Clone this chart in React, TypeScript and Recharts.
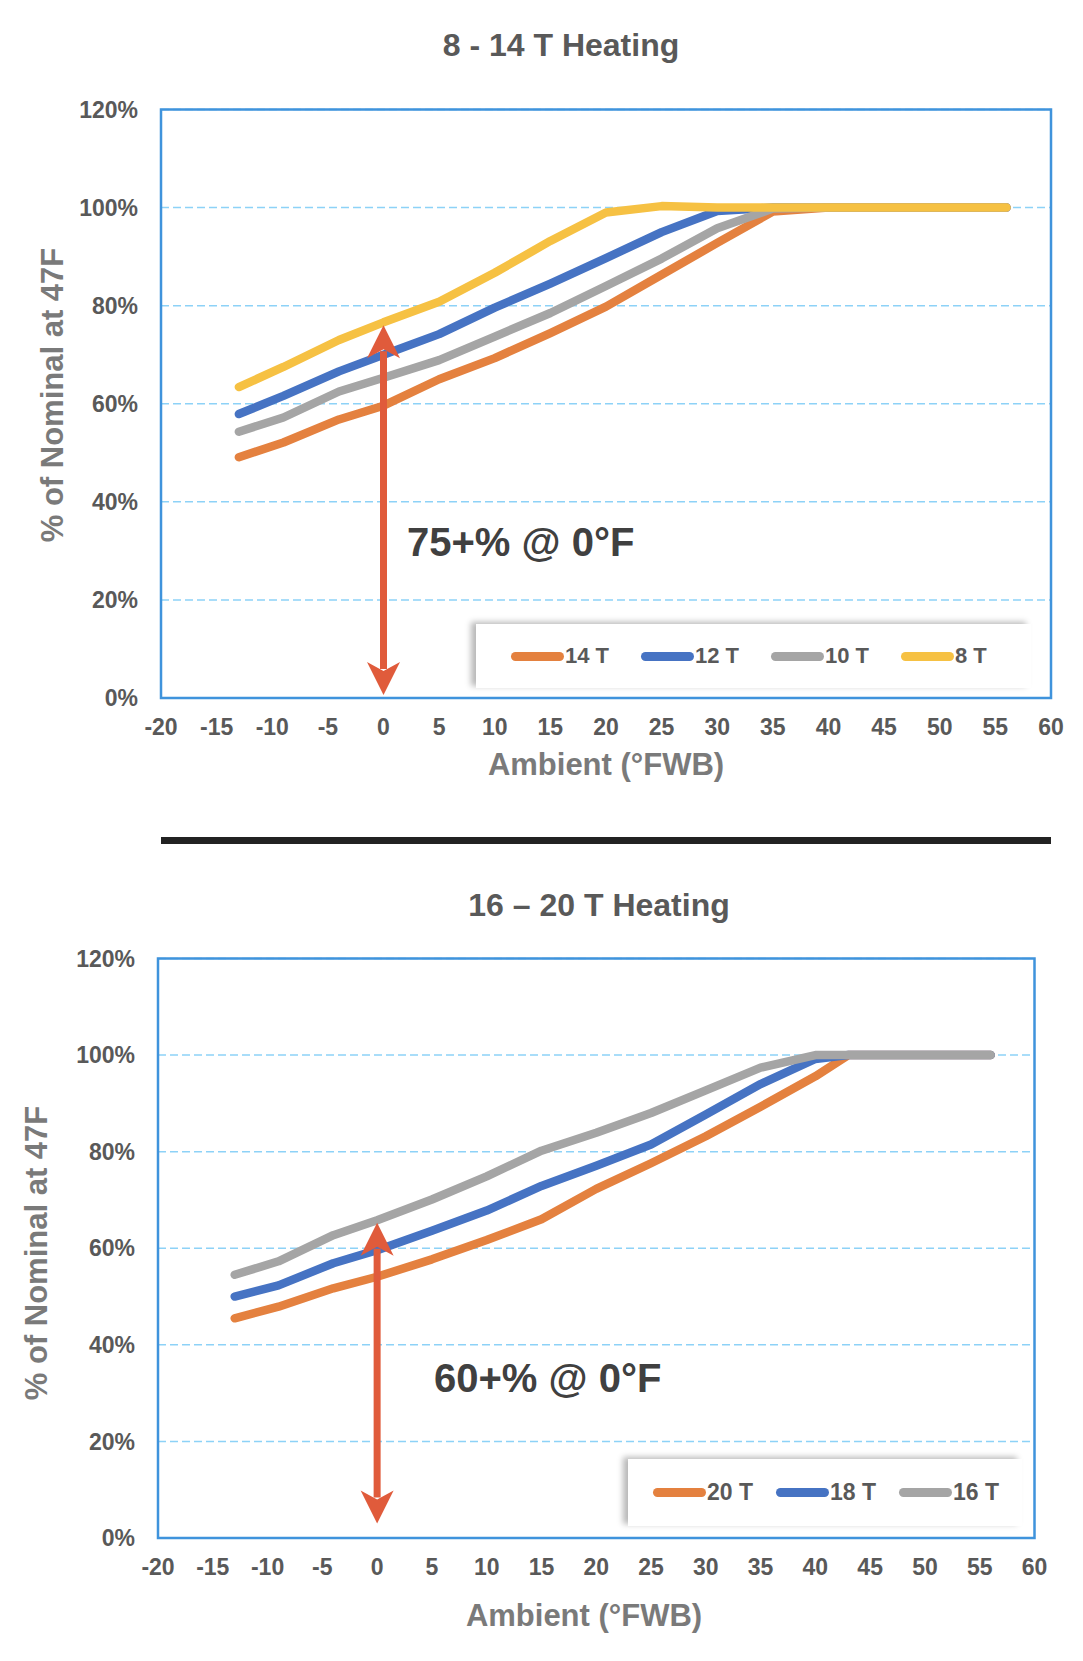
import React from 'react';
import {
  LineChart,
  Line,
  XAxis,
  YAxis,
  CartesianGrid,
  ReferenceArea,
  ReferenceLine,
  Legend,
} from 'recharts';

// ambient wet-bulb temperature (F) for every capacity row
const ambient = [-13, -9, -4, 0, 5, 10, 15, 20, 25, 30, 35, 40, 43, 50, 56];

// 8 - 14 T units, % of nominal heating capacity at 47F
const cap14T = [49.1, 52.1, 56.8, 59.6, 65.0, 69.3, 74.4, 79.8, 86.3, 92.8, 99.2, 100, 100, 100, 100];
const cap12T = [57.9, 61.6, 66.6, 70.0, 74.2, 79.6, 84.5, 89.7, 95.0, 99.3, 100, 100, 100, 100, 100];
const cap10T = [54.3, 57.2, 62.5, 65.3, 68.9, 73.7, 78.5, 84.0, 89.6, 95.8, 99.8, 100, 100, 100, 100];
const cap8T = [63.4, 67.5, 73.0, 76.6, 80.8, 86.7, 93.2, 99.0, 100.3, 100, 100, 100, 100, 100, 100];

// 16 - 20 T units
const cap20T = [45.5, 47.9, 51.7, 54.1, 57.7, 61.7, 66.0, 72.3, 77.6, 83.2, 89.3, 95.6, 100, 100, 100];
const cap18T = [50.0, 52.3, 56.9, 59.6, 63.6, 67.8, 72.9, 77.1, 81.5, 87.7, 94.0, 99.2, 100, 100, 100];
const cap16T = [54.5, 57.3, 62.7, 65.8, 70.1, 74.9, 80.2, 83.9, 88.0, 92.7, 97.4, 100, 100, 100, 100];

const xTicks = [-20, -15, -10, -5, 0, 5, 10, 15, 20, 25, 30, 35, 40, 45, 50, 55, 60];
const yTicks = [0, 20, 40, 60, 80, 100, 120];

// double arrow at 0F: [bottom, top] in %
const smallArrow = [0.6, 76];
const largeArrow = [3, 65.3];

const FONT = "'Liberation Sans', Arial, sans-serif";
const ORANGE = '#e4813f';
const BLUE = '#4673c3';
const GRAY = '#a5a5a5';
const YELLOW = '#f6c143';
const ARROW = '#e05b3b';
const FRAME = '#3f93dc';
const GRID = '#8dd2f7';
const TICK = '#595959';
const LINE_W = 8.5;

type Series = { key: string; name: string; color: string; values: number[] };

const smallSeries: Series[] = [
  { key: 't14', name: '14 T', color: ORANGE, values: cap14T },
  { key: 't12', name: '12 T', color: BLUE, values: cap12T },
  { key: 't10', name: '10 T', color: GRAY, values: cap10T },
  { key: 't8', name: '8 T', color: YELLOW, values: cap8T },
];

const largeSeries: Series[] = [
  { key: 't20', name: '20 T', color: ORANGE, values: cap20T },
  { key: 't18', name: '18 T', color: BLUE, values: cap18T },
  { key: 't16', name: '16 T', color: GRAY, values: cap16T },
];

const buildRows = (series: Series[]) =>
  ambient.map((x, i) => {
    const row: Record<string, number> = { x };
    series.forEach((s) => (row[s.key] = s.values[i]));
    return row;
  });

const ArrowShape = (props: any) => {
  const { x1, y1, y2 } = props;
  const top = Math.min(y1, y2);
  const bottom = Math.max(y1, y2);
  const hl = 33;
  const hw = 16.5;
  const notch = 9;
  return (
    <g>
      <line x1={x1} x2={x1} y1={top + hl - notch + 2} y2={bottom - hl + notch - 2} stroke={ARROW} strokeWidth={7} />
      <path d={`M${x1},${top} L${x1 + hw},${top + hl} L${x1},${top + hl - notch} L${x1 - hw},${top + hl} Z`} fill={ARROW} />
      <path d={`M${x1},${bottom} L${x1 + hw},${bottom - hl} L${x1},${bottom - hl + notch} L${x1 - hw},${bottom - hl} Z`} fill={ARROW} />
    </g>
  );
};

const LegendBox = ({ payload, order, pitch, padLeft, fontSize }: any) => {
  const items = (payload || [])
    .filter((p: any) => p.type !== 'none')
    .sort((a: any, b: any) => order.indexOf(a.value) - order.indexOf(b.value));
  return (
    <div
      style={{
        width: '100%',
        height: '100%',
        background: '#fff',
        boxShadow: '-5px -2px 6px rgba(0,0,0,0.28)',
        display: 'flex',
        alignItems: 'center',
        paddingLeft: padLeft,
        boxSizing: 'border-box',
        fontFamily: FONT,
      }}
    >
      {items.map((p: any) => (
        <div key={p.value} style={{ width: pitch, display: 'flex', alignItems: 'center' }}>
          <span style={{ width: 53, height: 9, borderRadius: 4.5, background: p.color, display: 'inline-block' }} />
          <span style={{ fontSize, fontWeight: 700, color: TICK, marginLeft: 1 }}>{p.value}</span>
        </div>
      ))}
    </div>
  );
};

type ChartProps = {
  series: Series[];
  arrow: number[];
  width: number;
  height: number;
  margin: { top: number; right: number; left: number; bottom: number };
  yAxisWidth: number;
  xAxisHeight: number;
  legend: { left: number; top: number; width: number; height: number; pitch: number; padLeft: number; fontSize: number };
};

const HeatingChart = ({ series, arrow, width, height, margin, yAxisWidth, xAxisHeight, legend }: ChartProps) => {
  const tickStyle = { fill: TICK, fontSize: 23, fontWeight: 700, fontFamily: FONT };
  const order = series.map((s) => s.name);
  return (
    <LineChart width={width} height={height} data={buildRows(series)} margin={margin}>
      <CartesianGrid vertical={false} stroke={GRID} strokeWidth={1.5} strokeDasharray="8 4" />
      <XAxis
        type="number"
        dataKey="x"
        domain={[-20, 60]}
        ticks={xTicks}
        interval={0}
        height={xAxisHeight}
        axisLine={false}
        tickLine={false}
        tickSize={0}
        tickMargin={21}
        tick={tickStyle}
      />
      <YAxis
        domain={[0, 120]}
        ticks={yTicks}
        interval={0}
        width={yAxisWidth}
        axisLine={false}
        tickLine={false}
        tickSize={0}
        tickMargin={23}
        tick={tickStyle}
        tickFormatter={(v: number) => `${v}%`}
      />
      <ReferenceArea x1={-20} x2={60} y1={0} y2={120} fill="none" stroke={FRAME} strokeWidth={2.5} />
      {series.map((s) => (
        <Line
          key={s.key}
          type="linear"
          dataKey={s.key}
          name={s.name}
          stroke={s.color}
          strokeWidth={LINE_W}
          strokeLinecap="round"
          strokeLinejoin="round"
          dot={false}
          activeDot={false}
          isAnimationActive={false}
        />
      ))}
      <ReferenceLine
        segment={[
          { x: 0, y: arrow[0] },
          { x: 0, y: arrow[1] },
        ]}
        shape={ArrowShape}
      />
      <Legend
        layout="horizontal"
        verticalAlign="middle"
        align="center"
        wrapperStyle={{ left: legend.left, top: legend.top, width: legend.width, height: legend.height }}
        content={(p: any) => (
          <LegendBox
            payload={p.payload}
            order={order}
            pitch={legend.pitch}
            padLeft={legend.padLeft}
            fontSize={legend.fontSize}
          />
        )}
      />
    </LineChart>
  );
};

export default function App() {
  const titleStyle = { fontFamily: FONT, fontWeight: 700, fontSize: 32, fill: TICK };
  const axisTitle = { fontFamily: FONT, fontWeight: 700, fontSize: 31, fill: '#7a7a7a' };
  const note = { fontFamily: FONT, fontWeight: 700, fontSize: 40, fill: '#404040' };
  return (
    <div style={{ position: 'absolute', left: 0, top: 0, width: 1083, height: 1661, background: '#fff', fontFamily: FONT }}>
      <div style={{ position: 'absolute', left: 0, top: 0 }}>
        <HeatingChart
          series={smallSeries}
          arrow={smallArrow}
          width={1083}
          height={800}
          margin={{ top: 109.5, right: 32, left: 0, bottom: 0 }}
          yAxisWidth={161}
          xAxisHeight={102}
          legend={{ left: 476, top: 624, width: 555, height: 64, pitch: 135.5, padLeft: 35, fontSize: 22 }}
        />
      </div>
      <div style={{ position: 'absolute', left: 161, top: 837, width: 890, height: 7, background: '#222' }} />
      <div style={{ position: 'absolute', left: 0, top: 850 }}>
        <HeatingChart
          series={largeSeries}
          arrow={largeArrow}
          width={1083}
          height={811}
          margin={{ top: 108.5, right: 48.5, left: 0, bottom: 0 }}
          yAxisWidth={158}
          xAxisHeight={123}
          legend={{ left: 628, top: 609, width: 394, height: 67, pitch: 123.3, padLeft: 25, fontSize: 23 }}
        />
      </div>
      <svg width={1083} height={1661} style={{ position: 'absolute', left: 0, top: 0, pointerEvents: 'none' }}>
        <text x={561} y={56} textAnchor="middle" style={titleStyle}>8 - 14 T Heating</text>
        <text x={599} y={916} textAnchor="middle" style={titleStyle}>16 – 20 T Heating</text>
        <text x={606} y={775} textAnchor="middle" style={axisTitle}>Ambient (°FWB)</text>
        <text x={584} y={1626} textAnchor="middle" style={axisTitle}>Ambient (°FWB)</text>
        <text x={63} y={395} textAnchor="middle" transform="rotate(-90 63 395)" style={axisTitle}>% of Nominal at 47F</text>
        <text x={47} y={1253} textAnchor="middle" transform="rotate(-90 47 1253)" style={axisTitle}>% of Nominal at 47F</text>
        <text x={407} y={556} style={note}>75+% @ 0°F</text>
        <text x={434} y={1392} style={note}>60+% @ 0°F</text>
      </svg>
    </div>
  );
}
